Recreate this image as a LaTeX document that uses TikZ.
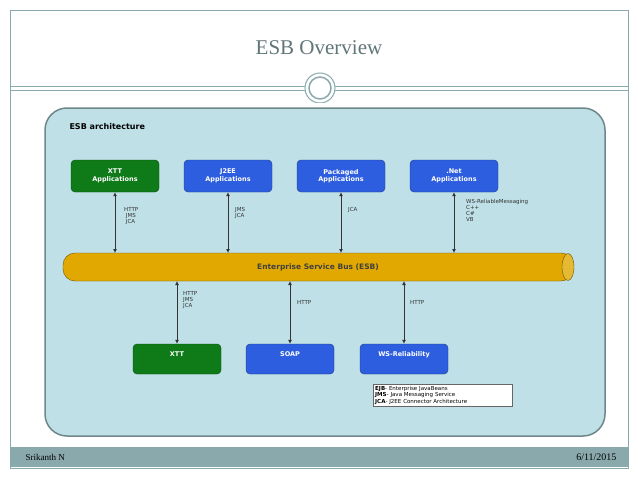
\documentclass[tikz,border=0pt]{standalone}
\usepackage{fontspec}
\setmainfont{Liberation Serif}
\newfontfamily\sansf{DejaVu Sans}
\usetikzlibrary{shapes.geometric,arrows.meta}
\definecolor{teal}{HTML}{8AA9AD}
\definecolor{panel}{HTML}{BEE0E6}
\definecolor{gbox}{HTML}{0E7A18}
\definecolor{bbox}{HTML}{2E5EE0}
\definecolor{bus}{HTML}{E0A800}
\begin{document}
\begin{tikzpicture}[x=1pt,y=-1pt,
  app/.style={draw=#1!60!black,fill=#1,rounded corners=4pt,minimum width=88pt,minimum height=32pt,text=white,font=\sansf\fontsize{6.5}{7.5}\selectfont\bfseries,align=center,inner sep=1pt},
  lab/.style={font=\sansf\fontsize{5.5}{6}\selectfont,align=left,anchor=north west,text=black!80,inner sep=0pt},
  con/.style={{Latex[length=4pt,width=4pt]}-{Latex[length=4pt,width=4pt]},black!80,line width=0.9pt}]
\useasboundingbox (0,0) rectangle (638,479);
\fill[white] (0,0) rectangle (638,479);
\draw[teal] (10,10) rectangle (628,468);
\fill[teal] (10,447) rectangle (628,467);
\draw[teal,line width=0.8pt] (10,86) -- (628,86);
\draw[teal,line width=0.8pt] (10,90) -- (628,90);
\node[draw=teal,fill=white,circle,minimum size=30pt,line width=1pt] (c1) at (320,88) {};
\node[draw=teal,circle,minimum size=22pt,line width=1.5pt] (c2) at (320,88) {};
\node[text=teal!70!black,font=\fontsize{21}{24}\selectfont] (title) at (319,48) {ESB Overview};
\node[anchor=west,font=\fontsize{9}{10}\selectfont] (auth) at (22,457) {Srikanth N};
\node[anchor=east,font=\fontsize{10}{11}\selectfont] (date) at (620,457) {6/11/2015};
% panel
\fill[white] (38,103) rectangle (612,440);
\draw[fill=panel,draw=teal!80!black,line width=1.5pt,rounded corners=22pt] (45,108) rectangle (605,436);
\node[anchor=west,font=\sansf\fontsize{8}{9}\selectfont\bfseries] (h) at (66,127) {ESB architecture};
\node[app=gbox] (xa) at (115,176) {XTT\\Applications};
\node[app=bbox] (ja) at (228,176) {J2EE\\Applications};
\node[app=bbox] (pa) at (341,176) {Packaged\\Applications};
\node[app=bbox] (na) at (454,176) {.Net\\Applications};
\node[draw=black!50!bus,fill=bus,minimum width=510pt,minimum height=28pt,rounded corners=12pt,font=\sansf\fontsize{7.5}{8}\selectfont\bfseries,text=black!75] (esb) at (318,267) {Enterprise Service Bus (ESB)};
\draw[black!50!bus,fill=bus!80!white] (568,267) ellipse (6pt and 13.5pt);
\node[app=gbox,minimum height=30pt,text depth=10pt] (x) at (177,359) {XTT};
\node[app=bbox,minimum height=30pt,text depth=10pt] (s) at (290,359) {SOAP};
\node[app=bbox,minimum height=30pt,text depth=10pt] (w) at (404,359) {WS-Reliability};
\coordinate (e1) at (115,253); \coordinate (e2) at (228,253); \coordinate (e3) at (341,253); \coordinate (e4) at (454,253);
\coordinate (f1) at (177,281); \coordinate (f2) at (290,281); \coordinate (f3) at (404,281);
\draw[con] (xa.south) -- (e1);
\draw[con] (ja.south) -- (e2);
\draw[con] (pa.south) -- (e3);
\draw[con] (na.south) -- (e4);
\draw[con] (f1) -- (x.north);
\draw[con] (f2) -- (s.north);
\draw[con] (f3) -- (w.north);
\node[lab] (l1) at (124,207) {HTTP\\\ JMS\\\ JCA};
\node[lab] (l2) at (235,207) {JMS\\JCA};
\node[lab] (l3) at (348,207) {JCA};
\node[lab] (l4) at (466,199) {WS-ReliableMessaging\\C++\\C\#\\VB};
\node[lab] (l5) at (183,291) {HTTP\\JMS\\JCA};
\node[lab] (l6) at (297,300) {HTTP};
\node[lab] (l7) at (410,300) {HTTP};
\node[draw=black!60,fill=white,anchor=north west,font=\sansf\fontsize{5.5}{6.5}\selectfont,align=left,inner sep=2pt,text width=135pt] (leg) at (373,384) {\textbf{EJB}- Enterprise JavaBeans\\\textbf{JMS}- Java Messaging Service\\\textbf{JCA}- J2EE Connector Architecture};
\end{tikzpicture}
\end{document}
